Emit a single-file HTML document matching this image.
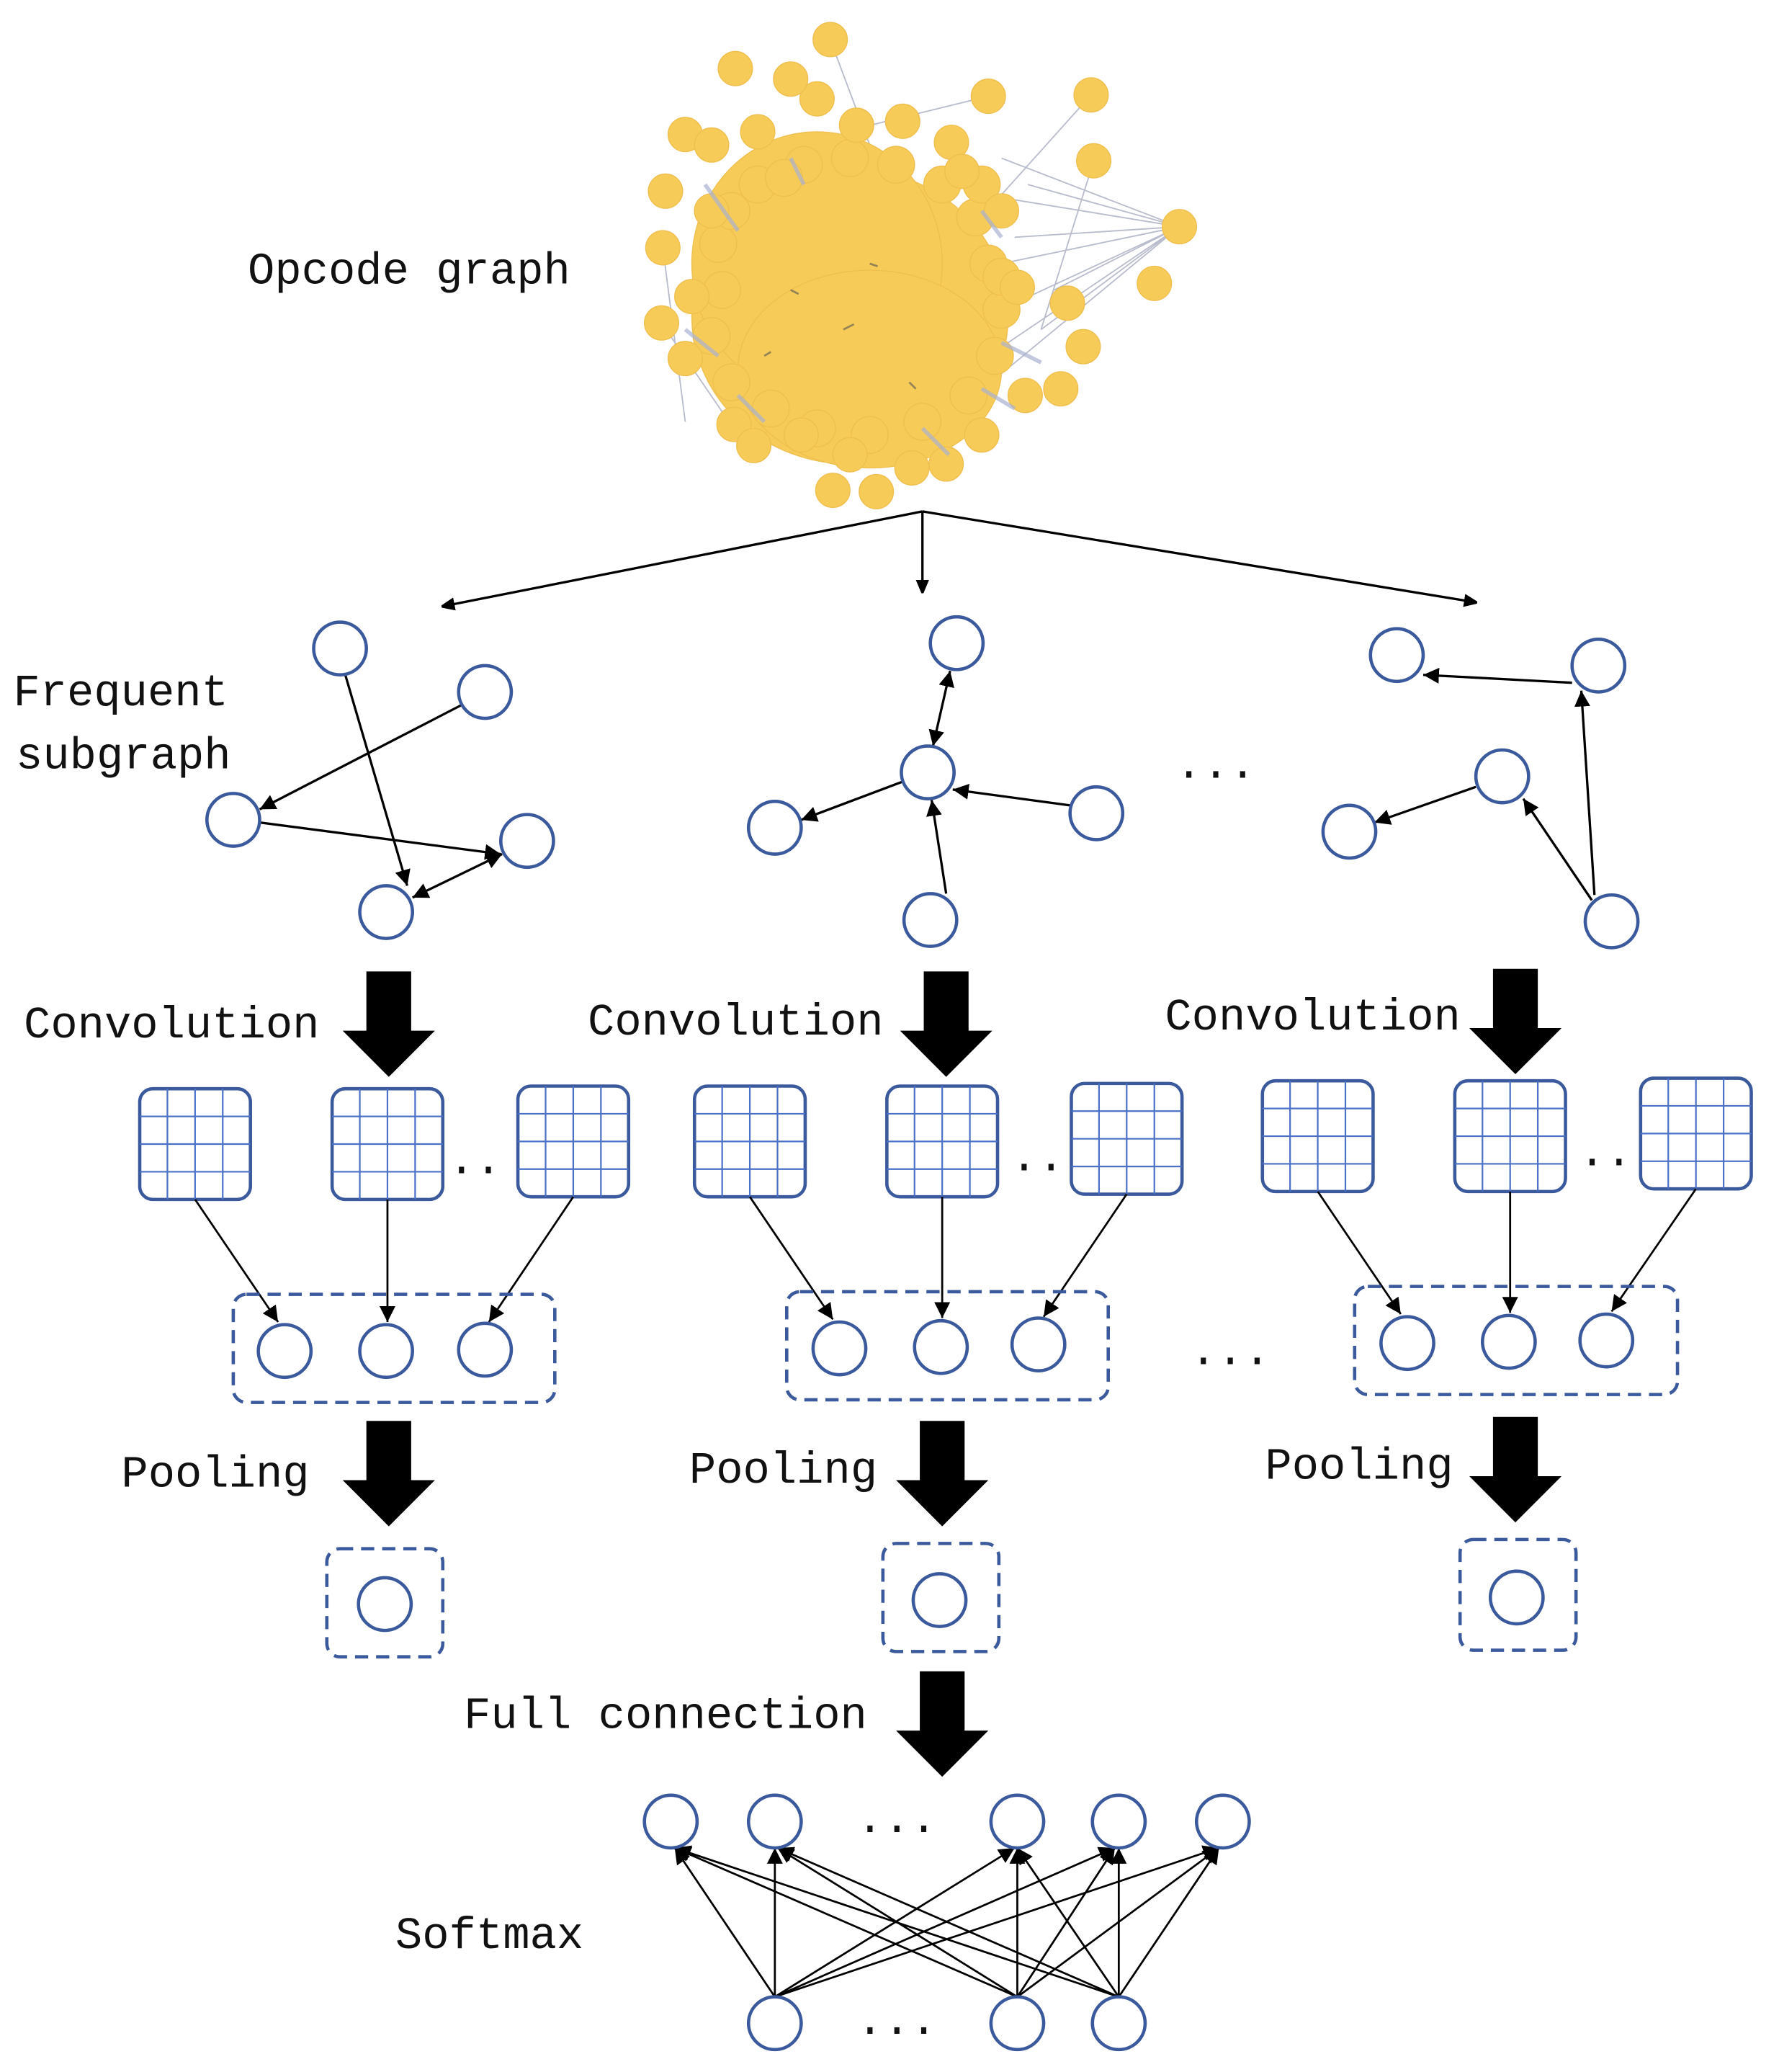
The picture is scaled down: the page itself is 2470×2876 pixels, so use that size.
<!DOCTYPE html>
<html><head><meta charset="utf-8"><style>
html,body{margin:0;padding:0;background:#fff}
svg{display:block}
text{font-family:"Liberation Mono","Noto Sans CJK SC",monospace;font-size:34px;fill:#111}
</style></head><body>
<svg width="2470" height="2876" viewBox="0 0 1350 1572" xmlns="http://www.w3.org/2000/svg">
<defs>
<marker id="ah" markerWidth="10" markerHeight="10" refX="9" refY="5" orient="auto" markerUnits="userSpaceOnUse"><path d="M0,0 L12,5 L0,10 Z" fill="#000"/></marker>
<marker id="ahs" markerWidth="12" markerHeight="12" refX="12" refY="6" orient="auto-start-reverse" markerUnits="userSpaceOnUse"><path d="M0,0 L12,6 L0,12 Z" fill="#000"/></marker>
<g id="big"><path d="M-17,0 H17 V45 H35 L0,80 L-35,45 H-17 Z" fill="#000"/></g>
<g id="grid"><rect x="-42" y="-42" width="84" height="84" rx="10" fill="#fff" stroke="#3b5a9e" stroke-width="2.5"/>
<path d="M-21,-42V42M0,-42V42M21,-42V42M-42,-21H42M-42,0H42M-42,21H42" stroke="#4a70c8" stroke-width="1.2"/></g>
</defs>
<!-- opcode graph -->
<g stroke="#b8bccc" stroke-width="1">
<path d="M895,172L760,150M895,172L770,180M895,172L760,200M895,172L770,230M895,172L765,260M895,172L760,120M895,172L740,300M895,172L780,140M895,172L790,250M895,172L800,220M828,72L740,170M830,122L790,250M630,30L660,110M750,73L640,100M503,188L520,320M502,245L560,330"/>
</g>
<g fill="#f7cb58" stroke="#efc050" stroke-width="0.8">
<ellipse cx="645" cy="240" rx="120" ry="112"/>
<ellipse cx="620" cy="200" rx="95" ry="100"/>
<ellipse cx="660" cy="280" rx="100" ry="75"/>
<circle cx="545" cy="185" r="14"/><circle cx="548" cy="220" r="14"/><circle cx="540" cy="255" r="14"/><circle cx="555" cy="290" r="14"/><circle cx="585" cy="310" r="14"/><circle cx="620" cy="325" r="14"/><circle cx="660" cy="330" r="14"/><circle cx="700" cy="320" r="14"/><circle cx="735" cy="300" r="14"/><circle cx="755" cy="270" r="14"/><circle cx="760" cy="235" r="14"/><circle cx="750" cy="200" r="14"/><circle cx="740" cy="165" r="14"/><circle cx="715" cy="140" r="14"/><circle cx="680" cy="125" r="14"/><circle cx="645" cy="120" r="14"/><circle cx="610" cy="125" r="14"/><circle cx="575" cy="140" r="14"/><circle cx="555" cy="160" r="14"/><circle cx="760" cy="210" r="14"/><circle cx="745" cy="140" r="14"/><circle cx="595" cy="135" r="14"/>
<circle cx="630" cy="30" r="13"/><circle cx="558" cy="52" r="13"/><circle cx="520" cy="102" r="13"/><circle cx="575" cy="100" r="13"/><circle cx="620" cy="75" r="13"/><circle cx="650" cy="95" r="13"/><circle cx="685" cy="92" r="13"/><circle cx="722" cy="108" r="13"/><circle cx="750" cy="73" r="13"/><circle cx="828" cy="72" r="13"/><circle cx="830" cy="122" r="13"/><circle cx="895" cy="172" r="13"/><circle cx="876" cy="215" r="13"/><circle cx="822" cy="263" r="13"/><circle cx="805" cy="295" r="13"/><circle cx="778" cy="300" r="13"/><circle cx="810" cy="230" r="13"/><circle cx="772" cy="218" r="13"/><circle cx="760" cy="160" r="13"/><circle cx="505" cy="145" r="13"/><circle cx="503" cy="188" r="13"/><circle cx="502" cy="245" r="13"/><circle cx="525" cy="225" r="13"/><circle cx="520" cy="272" r="13"/><circle cx="557" cy="322" r="13"/><circle cx="572" cy="338" r="13"/><circle cx="608" cy="330" r="13"/><circle cx="645" cy="345" r="13"/><circle cx="632" cy="372" r="13"/><circle cx="665" cy="373" r="13"/><circle cx="692" cy="355" r="13"/><circle cx="718" cy="352" r="13"/><circle cx="745" cy="330" r="13"/><circle cx="540" cy="110" r="13"/><circle cx="600" cy="60" r="13"/><circle cx="540" cy="160" r="13"/><circle cx="730" cy="130" r="13"/>
</g>
<g stroke="#a8b0d0" stroke-width="3" opacity="0.7" fill="none"><path d="M535,140 L560,175M520,250L545,270M560,300L580,320M700,325L720,345M745,160L760,180M600,120L610,140M760,260L790,275M745,295L770,310"/></g>
<g stroke="#555" stroke-width="1.5" opacity="0.6"><path d="M640,250l8,-4M600,220l6,3M690,290l5,5M660,200l6,2M580,270l5,-3"/></g>
<text x="188" y="215">Opcode graph</text>
<!-- split arrows -->
<g stroke="#000" stroke-width="1.8" fill="none">
<line x1="700" y1="388" x2="336" y2="460" marker-end="url(#ah)"/>
<line x1="700" y1="388" x2="700" y2="449" marker-end="url(#ah)"/>
<line x1="700" y1="388" x2="1120" y2="457" marker-end="url(#ah)"/>
</g>
<text x="10" y="535">Frequent</text><text x="12" y="583">subgraph</text>
<g stroke="#000" stroke-width="1.8" fill="none">
<line x1="262" y1="512" x2="309" y2="672" marker-end="url(#ahs)"/>
<line x1="350" y1="535" x2="197" y2="614" marker-end="url(#ahs)"/>
<line x1="197" y1="624" x2="380" y2="648" marker-end="url(#ahs)"/>
<line x1="313" y1="681" x2="381" y2="648" marker-start="url(#ahs)" marker-end="url(#ahs)"/>
<line x1="708" y1="566" x2="721" y2="509" marker-start="url(#ahs)" marker-end="url(#ahs)"/>
<line x1="685" y1="593" x2="608" y2="622" marker-end="url(#ahs)"/>
<line x1="812" y1="611" x2="723" y2="599" marker-end="url(#ahs)"/>
<line x1="718" y1="678" x2="707" y2="607" marker-end="url(#ahs)"/>
<line x1="1193" y1="518" x2="1080" y2="512" marker-end="url(#ahs)"/>
<line x1="1210" y1="679" x2="1200" y2="524" marker-end="url(#ahs)"/>
<line x1="1120" y1="597" x2="1043" y2="624" marker-end="url(#ahs)"/>
<line x1="1208" y1="683" x2="1156" y2="606" marker-end="url(#ahs)"/>
</g>
<g fill="#fff" stroke="#3b5a9e" stroke-width="2.5">
<circle cx="258" cy="492" r="20"/><circle cx="368" cy="525" r="20"/><circle cx="177" cy="622" r="20"/><circle cx="400" cy="638" r="20"/><circle cx="293" cy="692" r="20"/>
<circle cx="726" cy="488" r="20"/><circle cx="704" cy="586" r="20"/><circle cx="588" cy="628" r="20"/><circle cx="832" cy="617" r="20"/><circle cx="706" cy="698" r="20"/>
<circle cx="1060" cy="497" r="20"/><circle cx="1213" cy="505" r="20"/><circle cx="1140" cy="589" r="20"/><circle cx="1024" cy="631" r="20"/><circle cx="1223" cy="699" r="20"/>
</g>
<text x="892" y="590">...</text>
<use href="#big" x="295" y="737"/><use href="#big" x="718" y="737"/><use href="#big" x="1150" y="735"/>
<text x="18" y="787">Convolution</text><text x="446" y="785">Convolution</text><text x="884" y="781">Convolution</text>
<use href="#grid" x="148" y="868"/><use href="#grid" x="294" y="868"/><use href="#grid" x="435" y="866"/>
<use href="#grid" x="569" y="866"/><use href="#grid" x="715" y="866"/><use href="#grid" x="855" y="864"/>
<use href="#grid" x="1000" y="862"/><use href="#grid" x="1146" y="862"/><use href="#grid" x="1287" y="860"/>
<text x="340" y="890">..</text><text x="767" y="888">..</text><text x="1198" y="884">..</text>
<g stroke="#000" stroke-width="1.5" fill="none">
<line x1="148" y1="910" x2="211" y2="1003" marker-end="url(#ahs)"/>
<line x1="294" y1="910" x2="294" y2="1003" marker-end="url(#ahs)"/>
<line x1="435" y1="908" x2="371" y2="1003" marker-end="url(#ahs)"/>
<line x1="569" y1="908" x2="632" y2="1001" marker-end="url(#ahs)"/>
<line x1="715" y1="908" x2="715" y2="1000" marker-end="url(#ahs)"/>
<line x1="855" y1="906" x2="792" y2="999" marker-end="url(#ahs)"/>
<line x1="1000" y1="904" x2="1063" y2="997" marker-end="url(#ahs)"/>
<line x1="1146" y1="904" x2="1146" y2="996" marker-end="url(#ahs)"/>
<line x1="1287" y1="902" x2="1223" y2="995" marker-end="url(#ahs)"/>
</g>
<g fill="none" stroke="#3b5a9e" stroke-width="2.5" stroke-dasharray="10,6">
<rect x="177" y="982" width="244" height="82" rx="10"/>
<rect x="597" y="980" width="244" height="82" rx="10"/>
<rect x="1028" y="976" width="245" height="82" rx="10"/>
<rect x="248" y="1175" width="88" height="82" rx="10"/>
<rect x="670" y="1171" width="88" height="82" rx="10"/>
<rect x="1108" y="1168" width="88" height="84" rx="10"/>
</g>
<g fill="#fff" stroke="#3b5a9e" stroke-width="2.5">
<circle cx="216" cy="1025" r="20"/><circle cx="293" cy="1025" r="20"/><circle cx="368" cy="1024" r="20"/>
<circle cx="637" cy="1023" r="20"/><circle cx="714" cy="1022" r="20"/><circle cx="788" cy="1020" r="20"/>
<circle cx="1068" cy="1019" r="20"/><circle cx="1145" cy="1018" r="20"/><circle cx="1219" cy="1017" r="20"/>
<circle cx="292" cy="1217" r="20"/><circle cx="713" cy="1214" r="20"/><circle cx="1151" cy="1212" r="20"/>
</g>
<text x="903" y="1035">...</text>
<use href="#big" x="295" y="1078"/><use href="#big" x="715" y="1078"/><use href="#big" x="1150" y="1075"/>
<text x="92" y="1128">Pooling</text><text x="523" y="1125">Pooling</text><text x="960" y="1122">Pooling</text>
<use href="#big" x="715" y="1268"/>
<text x="352" y="1311">Full connection</text>
<text x="300" y="1478">Softmax</text>
<g stroke="#000" stroke-width="1.5" fill="none">
<line x1="588" y1="1515" x2="512" y2="1402" marker-end="url(#ahs)"/>
<line x1="588" y1="1515" x2="588" y2="1402" marker-end="url(#ahs)"/>
<line x1="588" y1="1515" x2="770" y2="1402" marker-end="url(#ahs)"/>
<line x1="588" y1="1515" x2="846" y2="1402" marker-end="url(#ahs)"/>
<line x1="588" y1="1515" x2="925" y2="1402" marker-end="url(#ahs)"/>
<line x1="772" y1="1515" x2="512" y2="1402" marker-end="url(#ahs)"/>
<line x1="772" y1="1515" x2="590" y2="1402" marker-end="url(#ahs)"/>
<line x1="772" y1="1515" x2="772" y2="1402" marker-end="url(#ahs)"/>
<line x1="772" y1="1515" x2="846" y2="1402" marker-end="url(#ahs)"/>
<line x1="772" y1="1515" x2="925" y2="1402" marker-end="url(#ahs)"/>
<line x1="849" y1="1515" x2="512" y2="1402" marker-end="url(#ahs)"/>
<line x1="849" y1="1515" x2="590" y2="1402" marker-end="url(#ahs)"/>
<line x1="849" y1="1515" x2="772" y2="1402" marker-end="url(#ahs)"/>
<line x1="849" y1="1515" x2="849" y2="1402" marker-end="url(#ahs)"/>
<line x1="849" y1="1515" x2="925" y2="1402" marker-end="url(#ahs)"/>
</g>
<g fill="#fff" stroke="#3b5a9e" stroke-width="2.5">
<circle cx="509" cy="1382" r="20"/><circle cx="588" cy="1382" r="20"/><circle cx="772" cy="1382" r="20"/><circle cx="849" cy="1382" r="20"/><circle cx="928" cy="1382" r="20"/>
<circle cx="588" cy="1535" r="20"/><circle cx="772" cy="1535" r="20"/><circle cx="849" cy="1535" r="20"/>
</g>
<text x="650" y="1390">...</text><text x="650" y="1543">...</text>
</svg>
</body></html>
